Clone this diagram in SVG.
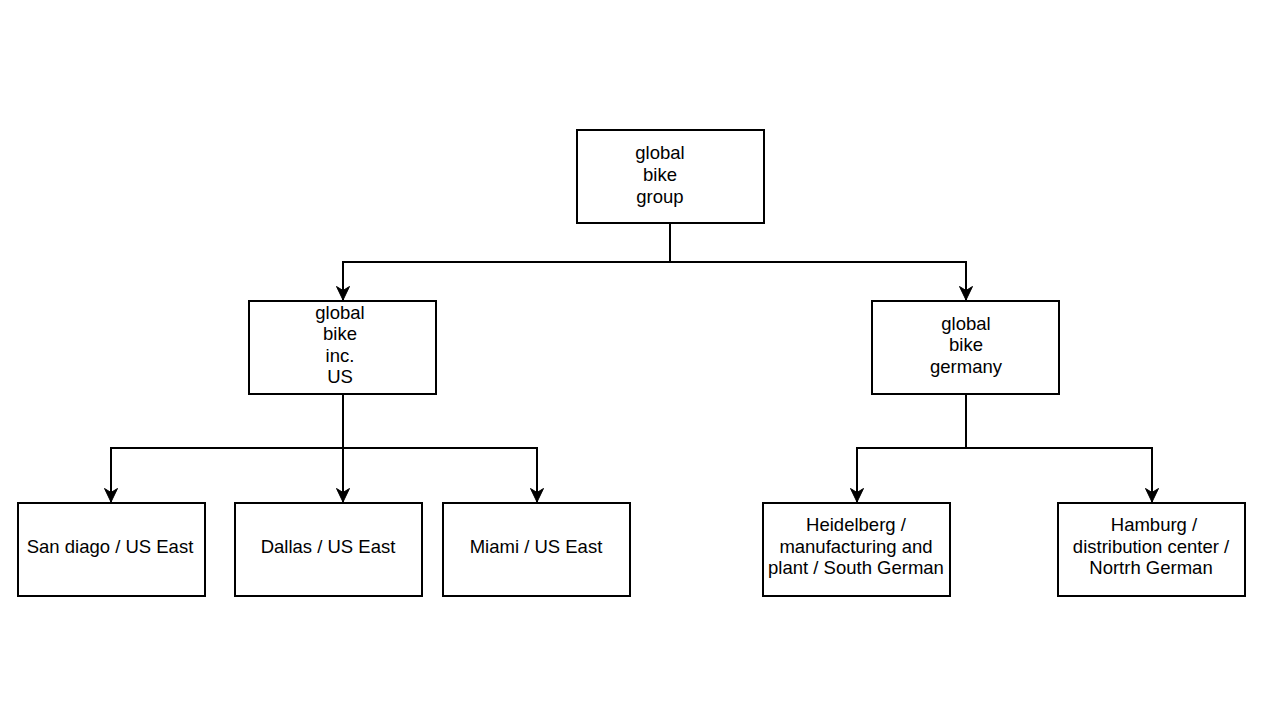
<svg xmlns="http://www.w3.org/2000/svg" width="1280" height="720" viewBox="0 0 1280 720">
<style>
.box{fill:#fff;stroke:#000;stroke-width:2}
.t{font-family:"Liberation Sans",Arial,sans-serif;font-size:18.5px;fill:#000;text-anchor:middle;dominant-baseline:central}
.c{fill:none;stroke:#000;stroke-width:2}
</style>
<defs>
<marker id="ah" markerUnits="userSpaceOnUse" markerWidth="16" markerHeight="16" viewBox="0 0 16 16" refX="14" refY="8" orient="auto">
<path d="M0.5,1.5 L14,8 L0.5,14.5 L4.5,8 Z" fill="#000" stroke="#000" stroke-width="1"/>
</marker>
</defs>
<rect width="1280" height="720" fill="#fff"/>
<g id="connectors">
<path class="c" d="M670,223 V262 H343 V300" marker-end="url(#ah)"/>
<path class="c" d="M670,262 H966 V300" marker-end="url(#ah)"/>
<path class="c" d="M343,394 V502" marker-end="url(#ah)"/>
<path class="c" d="M343,448 H111 V502" marker-end="url(#ah)"/>
<path class="c" d="M343,448 H537 V502" marker-end="url(#ah)"/>
<path class="c" d="M966,394 V448 H857 V502" marker-end="url(#ah)"/>
<path class="c" d="M966,448 H1152 V502" marker-end="url(#ah)"/>
</g>
<g id="n-group">
<rect class="box" x="577" y="130" width="187" height="93"/>
<text class="t" x="660" y="152">global</text>
<text class="t" x="660" y="174">bike</text>
<text class="t" x="660" y="196">group</text>
</g>
<g id="n-us">
<rect class="box" x="249" y="301" width="187" height="93"/>
<text class="t" x="340" y="312">global</text>
<text class="t" x="340" y="333">bike</text>
<text class="t" x="340" y="355">inc.</text>
<text class="t" x="340" y="376">US</text>
</g>
<g id="n-de">
<rect class="box" x="872" y="301" width="187" height="93"/>
<text class="t" x="966" y="323">global</text>
<text class="t" x="966" y="344">bike</text>
<text class="t" x="966" y="366">germany</text>
</g>
<g id="n-sandiago">
<rect class="box" x="18" y="503" width="187" height="93"/>
<text class="t" x="110" y="546">San diago / US East</text>
</g>
<g id="n-dallas">
<rect class="box" x="235" y="503" width="187" height="93"/>
<text class="t" x="328" y="546">Dallas / US East</text>
</g>
<g id="n-miami">
<rect class="box" x="443" y="503" width="187" height="93"/>
<text class="t" x="536" y="546">Miami / US East</text>
</g>
<g id="n-heidelberg">
<rect class="box" x="763" y="503" width="187" height="93"/>
<text class="t" x="856" y="524">Heidelberg /</text>
<text class="t" x="856" y="546">manufacturing and</text>
<text class="t" x="856" y="567">plant / South German</text>
</g>
<g id="n-hamburg">
<rect class="box" x="1058" y="503" width="187" height="93"/>
<text class="t" x="1154" y="524">Hamburg /</text>
<text class="t" x="1151" y="546">distribution center /</text>
<text class="t" x="1151" y="567">Nortrh German</text>
</g>
</svg>
